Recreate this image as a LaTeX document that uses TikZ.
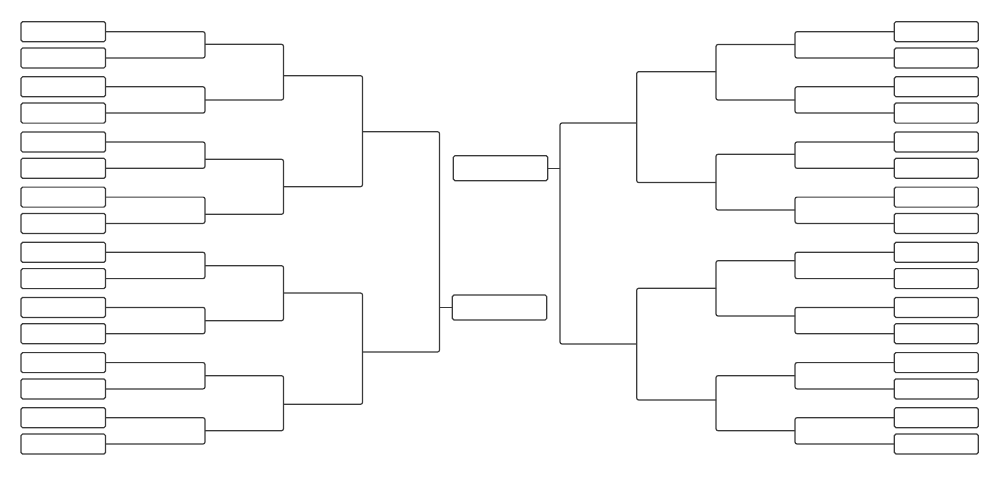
\documentclass[tikz,border=0pt]{standalone}
\definecolor{ln}{HTML}{3A3A3A}
\tikzset{
  slot/.style={draw=ln, line width=1.2pt, fill=white, rounded corners=1.6pt,
    minimum width=84.5pt, minimum height=20pt, inner sep=0pt, outer sep=0pt},
  link/.style={draw=ln, line width=1.2pt, rounded corners=2pt},
}
\begin{document}
\begin{tikzpicture}[x=1pt,y=-1pt]
\useasboundingbox[fill=white] (0,0) rectangle (1000,476);
% first-round slots
\foreach \t [count=\k] in {31.7,86.8,142.0,197.1,252.3,307.4,362.6,417.7} {
  \pgfmathsetmacro\b{\t+26.3}
  \pgfmathtruncatemacro\a{2*\k-1}
  \pgfmathtruncatemacro\c{2*\k}
  \node[slot] (L\a) at (63.25,\t) {};
  \node[slot] (L\c) at (63.25,\b) {};
  \node[slot, minimum width=84pt] (R\a) at (936.3,\t) {};
  \node[slot, minimum width=84pt] (R\c) at (936.3,\b) {};
}
% final slots
\node[slot, minimum width=94.4pt, minimum height=25pt] (ctop) at (500.5,168.2) {};
\node[slot, minimum width=94.4pt, minimum height=25pt] (cbot) at (499.5,307.5) {};
% junctions
\foreach \y [count=\k] in {44.3,100,159.3,214.3,265.7,320.7,375.7,430.7} \coordinate (LA\k) at (205,\y);
\foreach \y [count=\k] in {75.7,186.7,293,404.3} \coordinate (LB\k) at (283.5,\y);
\foreach \y [count=\k] in {131.7,352} \coordinate (LC\k) at (362.5,\y);
\coordinate (LS) at (439.5,307.5);
\foreach \y [count=\k] in {44.5,100,154.3,210,260.7,316,375.7,430.7} \coordinate (RA\k) at (795,\y);
\foreach \y [count=\k] in {71.7,182.5,288.3,400} \coordinate (RB\k) at (716,\y);
\foreach \y [count=\k] in {123,344} \coordinate (RC\k) at (636.7,\y);
\coordinate (RS) at (560,168.2);
% connectors
\foreach \k in {1,...,8} {
  \pgfmathtruncatemacro\a{2*\k-1}
  \pgfmathtruncatemacro\c{2*\k}
  \draw[link] (L\a.east) -| (LA\k) |- (L\c.east);
  \draw[link] (R\a.west) -| (RA\k) |- (R\c.west);
}
\foreach \k in {1,...,4} {
  \pgfmathtruncatemacro\a{2*\k-1}
  \pgfmathtruncatemacro\c{2*\k}
  \draw[link] (LA\a) -| (LB\k) |- (LA\c);
  \draw[link] (RA\a) -| (RB\k) |- (RA\c);
}
\foreach \k in {1,2} {
  \pgfmathtruncatemacro\a{2*\k-1}
  \pgfmathtruncatemacro\c{2*\k}
  \draw[link] (LB\a) -| (LC\k) |- (LB\c);
  \draw[link] (RB\a) -| (RC\k) |- (RB\c);
}
\draw[link] (LC1) -| (LS) |- (LC2);
\draw[link] (RC1) -| (RS) |- (RC2);
\draw[link] (LS) -- (cbot.west);
\draw[link] (RS) -- (ctop.east);
\end{tikzpicture}
\end{document}
